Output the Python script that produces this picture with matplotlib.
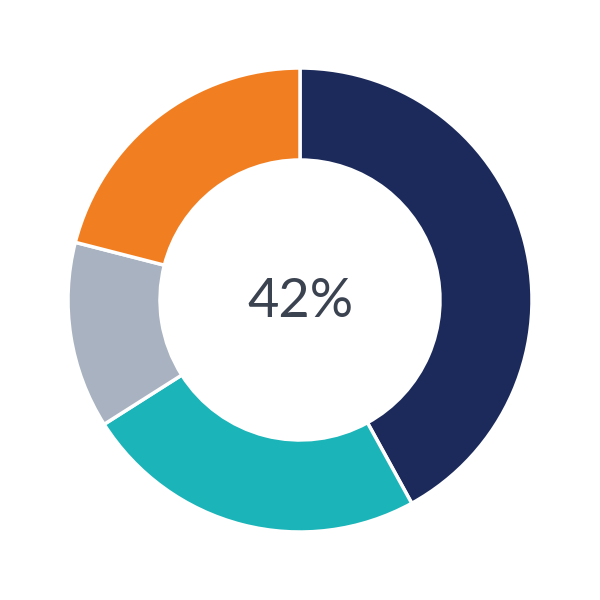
import matplotlib
matplotlib.use("Agg")
import matplotlib.pyplot as plt

labels = ["Navy", "Teal", "Gray", "Orange"]
values = [42, 24, 13, 21]
colors = ["#1b2a5b", "#1bb4b8", "#a8b2c0", "#f17f22"]
center_label = "42%"

fig = plt.figure(figsize=(6, 6), dpi=100)
ax = fig.add_axes([0, 0, 1, 1])

outer_r = 232 / 300
width = 92 / 300
ax.pie(values, colors=colors, startangle=90, counterclock=False,
       radius=outer_r,
       wedgeprops=dict(width=width, edgecolor="white", linewidth=2.5))

ax.text(0, -0.005, center_label, ha="center", va="center",
        fontsize=39, color="#3b4250", family=["Lato", "DejaVu Sans"])

ax.set_xlim(-1, 1)
ax.set_ylim(-1, 1)
ax.set_aspect("equal")
ax.axis("off")

fig.savefig("out.png", dpi=100, facecolor="white")
